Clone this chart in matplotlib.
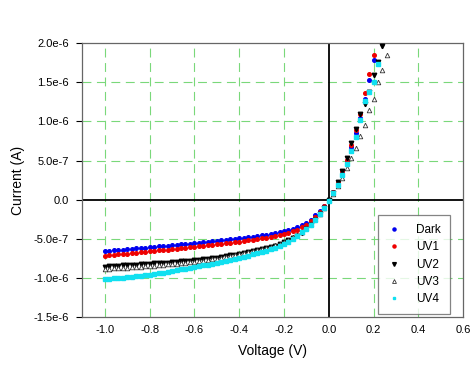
import numpy as np
import matplotlib.pyplot as plt
from matplotlib.ticker import FixedLocator, FixedFormatter

plt.rcParams['font.family'] = ['Liberation Sans', 'DejaVu Sans']

# reverse bias sweep, -1.0 .. 0.0 V in 0.02 V steps
v_rev = np.linspace(-1.0, 0.0, 51)

# currents in units of 1e-7 A
dark_rev = [-6.60, -6.55, -6.50, -6.45, -6.40, -6.35, -6.29, -6.24, -6.19, -6.14,
            -6.09, -6.04, -5.98, -5.93, -5.88, -5.82, -5.77, -5.72, -5.66, -5.61,
            -5.56, -5.50, -5.44, -5.38, -5.32, -5.26, -5.20, -5.14, -5.07, -5.01,
            -4.94, -4.87, -4.80, -4.73, -4.65, -4.57, -4.48, -4.39, -4.29, -4.16,
            -4.02, -3.88, -3.72, -3.52, -3.28, -2.95, -2.55, -2.00, -1.45, -0.80, -0.10]
uv1_rev = [-7.18, -7.12, -7.06, -7.01, -6.95, -6.90, -6.83, -6.78, -6.72, -6.67,
           -6.62, -6.56, -6.50, -6.44, -6.39, -6.33, -6.27, -6.21, -6.15, -6.10,
           -6.05, -5.98, -5.91, -5.85, -5.78, -5.71, -5.65, -5.58, -5.51, -5.44,
           -5.37, -5.29, -5.21, -5.13, -5.05, -4.96, -4.86, -4.76, -4.65, -4.52,
           -4.38, -4.22, -4.04, -3.83, -3.56, -3.20, -2.77, -2.18, -1.58, -0.87, -0.10]
uv2_rev = [-8.55, -8.51, -8.48, -8.44, -8.41, -8.37, -8.34, -8.30, -8.27, -8.23,
           -8.20, -8.16, -8.12, -8.08, -8.04, -8.00, -7.95, -7.91, -7.86, -7.82,
           -7.78, -7.71, -7.64, -7.56, -7.48, -7.40, -7.31, -7.22, -7.12, -7.02,
           -6.92, -6.81, -6.70, -6.58, -6.45, -6.32, -6.18, -6.03, -5.87, -5.67,
           -5.45, -5.20, -4.92, -4.60, -4.22, -3.75, -3.20, -2.55, -1.85, -1.05, -0.10]
uv3_rev = [-8.88, -8.84, -8.80, -8.76, -8.72, -8.68, -8.64, -8.60, -8.56, -8.52,
           -8.48, -8.43, -8.38, -8.33, -8.28, -8.23, -8.18, -8.12, -8.06, -8.00,
           -7.94, -7.87, -7.80, -7.72, -7.64, -7.55, -7.45, -7.35, -7.24, -7.12,
           -7.00, -6.88, -6.75, -6.62, -6.48, -6.33, -6.17, -6.00, -5.82, -5.62,
           -5.40, -5.12, -4.82, -4.48, -4.10, -3.65, -3.12, -2.50, -1.80, -1.02, -0.08]
uv4_rev = [-10.17, -10.12, -10.07, -10.02, -9.97, -9.92, -9.86, -9.80, -9.73, -9.67,
           -9.60, -9.51, -9.42, -9.33, -9.23, -9.13, -9.03, -8.93, -8.83, -8.73,
           -8.63, -8.52, -8.41, -8.30, -8.19, -8.07, -7.95, -7.83, -7.70, -7.57,
           -7.44, -7.30, -7.16, -7.01, -6.86, -6.70, -6.54, -6.37, -6.19, -5.97,
           -5.72, -5.42, -5.05, -4.65, -4.20, -3.72, -3.18, -2.55, -1.85, -1.08, -0.12]

# forward bias points
dark_fwd_v = [0.02, 0.04, 0.06, 0.08, 0.10, 0.12, 0.14, 0.16, 0.18, 0.20]
dark_fwd = [0.94, 2.1, 3.4, 4.9, 6.75, 8.55, 10.4, 12.9, 15.3, 17.9]
uv1_fwd_v = [0.02, 0.04, 0.06, 0.08, 0.10, 0.12, 0.14, 0.16, 0.18, 0.20]
uv1_fwd = [0.95, 2.2, 3.6, 5.1, 7.0, 8.9, 11.0, 13.6, 16.0, 18.5]
uv2_fwd_v = [0.02, 0.04, 0.06, 0.08, 0.10, 0.12, 0.14, 0.16, 0.18, 0.20, 0.22, 0.24]
uv2_fwd = [0.9, 2.3, 3.7, 5.3, 7.2, 9.0, 10.9, 12.2, 13.7, 15.9, 17.6, 19.6]
uv3_fwd_v = [0.02, 0.04, 0.06, 0.08, 0.10, 0.12, 0.14, 0.16, 0.18, 0.20, 0.22, 0.24, 0.26]
uv3_fwd = [0.7, 1.7, 2.8, 4.0, 5.3, 6.6, 8.1, 9.6, 11.5, 12.9, 15.0, 16.6, 18.5]
uv4_fwd_v = [0.02, 0.04, 0.06, 0.08, 0.10, 0.12, 0.14, 0.16, 0.18, 0.20, 0.22]
uv4_fwd = [0.8, 1.9, 3.2, 4.6, 6.2, 8.0, 10.2, 12.6, 13.8, 15.0, 17.4]

labels = ["Dark", "UV1", "UV2", "UV3", "UV4"]

x_ticks = [-1.0, -0.8, -0.6, -0.4, -0.2, 0.0, 0.2, 0.4, 0.6]
x_labels = ["-1.0", "-0.8", "-0.6", "-0.4", "-0.2", "0.0", "0.2", "0.4", "0.6"]
y_ticks = [-1.5e-6, -1.0e-6, -5.0e-7, 0.0, 5.0e-7, 1.0e-6, 1.5e-6, 2.0e-6]
y_labels = ["-1.5e-6", "-1.0e-6", "-5.0e-7", "0.0", "5.0e-7", "1.0e-6", "1.5e-6", "2.0e-6"]


def join(v_r, i_r, v_f, i_f):
    v = np.concatenate([v_r, v_f])
    i = np.concatenate([i_r, i_f]) * 1e-7
    return v, i


fig = plt.figure(figsize=(4.74, 3.66), dpi=100)
ax = fig.add_axes([0.174, 0.134, 0.803, 0.748])

grid_col = '#7ad87a'
for xv in x_ticks[:-1]:
    if xv != 0.0:
        ax.axvline(xv, color=grid_col, lw=0.8, dashes=(8, 5), zorder=0)
for yv in y_ticks[1:-1]:
    if yv != 0.0:
        ax.axhline(yv, color=grid_col, lw=0.8, dashes=(8, 5), zorder=0)
ax.axhline(0, color='black', lw=1.3, zorder=1)
ax.axvline(0, color='black', lw=1.3, zorder=1)

series = [
    (v_rev, dark_rev, dark_fwd_v, dark_fwd, dict(marker='o', color='#0000ee', mec='#0000ee', ms=2.6)),
    (v_rev, uv1_rev, uv1_fwd_v, uv1_fwd, dict(marker='o', color='#ee0000', mec='#ee0000', ms=2.6)),
    (v_rev, uv2_rev, uv2_fwd_v, uv2_fwd, dict(marker='v', color='black', mec='black', ms=3.2)),
    (v_rev, uv3_rev, uv3_fwd_v, uv3_fwd, dict(marker='^', color='white', mec='#333333', mew=0.6, ms=3.3)),
    (v_rev, uv4_rev, uv4_fwd_v, uv4_fwd, dict(marker='s', color='#11e0f0', mec='#11e0f0', ms=2.5)),
]
for (vr, ir, vf, i_f, st), lab in zip(series, labels):
    v, i = join(vr, ir, vf, i_f)
    ax.plot(v, i, linestyle='none', label=lab, zorder=3, **st)

ax.set_xlim(-1.1, 0.6)
ax.set_ylim(-1.5e-6, 2.0e-6)
ax.xaxis.set_major_locator(FixedLocator(x_ticks))
ax.xaxis.set_major_formatter(FixedFormatter(x_labels))
ax.yaxis.set_major_locator(FixedLocator(y_ticks))
ax.yaxis.set_major_formatter(FixedFormatter(y_labels))
ax.tick_params(axis='both', direction='out', length=4, width=0.8, labelsize=8, pad=6)
ax.tick_params(axis='x', length=0)
for sp in ax.spines.values():
    sp.set_color('#666666')
    sp.set_linewidth(0.9)

ax.set_xlabel("Voltage (V)", fontsize=10, labelpad=6)
ax.set_ylabel("Current (A)", fontsize=10, labelpad=6)

leg = ax.legend(loc='lower right', bbox_to_anchor=(0.965, 0.01), fontsize=8.5,
                markerscale=0.85, frameon=True, fancybox=False, handlelength=1.2,
                handletextpad=1.3, labelspacing=0.45, borderpad=0.75, borderaxespad=0)
leg.get_frame().set_edgecolor('#666666')
leg.get_frame().set_linewidth(0.9)

fig.savefig("out.png", dpi=100)
